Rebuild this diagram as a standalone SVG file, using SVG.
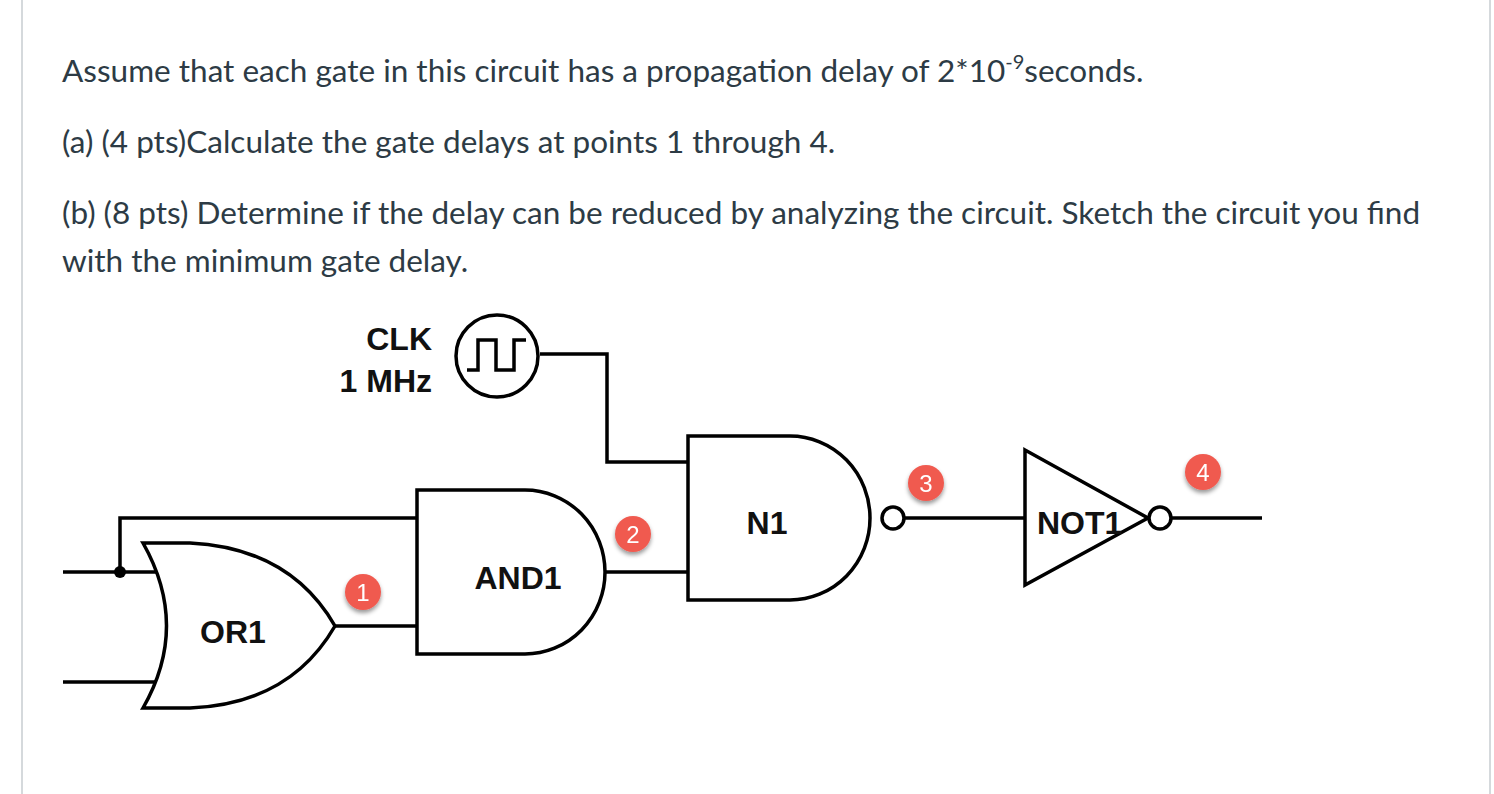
<svg xmlns="http://www.w3.org/2000/svg" width="1494" height="794" viewBox="0 0 1494 794">
<defs>
<style>
.t{font-family:Lato,"Open Sans",sans-serif;font-size:31.5px;fill:#2d3b45}
.w{fill:none;stroke:#000;stroke-width:3.5}
.g{fill:#fff;stroke:#000;stroke-width:3.5}
.l{font-family:"Liberation Sans",Arial,sans-serif;font-weight:bold;font-size:32px;fill:#111}
.bt{font-family:"Liberation Sans",Arial,sans-serif;font-size:24px;fill:#fff;text-anchor:middle}
.b{fill:#f05a50}
</style>
<filter id="sh" x="-50%" y="-50%" width="200%" height="200%"><feDropShadow dx="0" dy="3" stdDeviation="2" flood-opacity="0.4"/></filter>
</defs>
<rect width="1494" height="794" fill="#fff"/>
<line x1="22" y1="0" x2="22" y2="794" stroke="#c7cdd1" stroke-width="1.5"/>
<line x1="1490" y1="0" x2="1490" y2="794" stroke="#c7cdd1" stroke-width="1.5"/>
<text class="t" x="62" y="82">Assume that each gate in this circuit has a propagation delay of 2*10<tspan font-size="20" dy="-13">-9</tspan><tspan dy="13">seconds.</tspan></text>
<text class="t" x="62" y="153">(a) (4 pts)Calculate the gate delays at points 1 through 4.</text>
<text class="t" x="62" y="224">(b) (8 pts) Determine if the delay can be reduced by analyzing the circuit. Sketch the circuit you find</text>
<text class="t" x="62" y="272">with the minimum gate delay.</text>
<g id="connectors">
<path class="w" d="M540 354 H607 V462 H688"/>
<path class="w" d="M63 572 H165 M120 572 V518 H417 M63 682 H160 M335 626 H417 M605 572 H688 M903 518 H1025 M1170 518 H1262"/>
<circle cx="120" cy="572" r="6" fill="#000"/>
</g>
<g id="CLK">
<circle class="g" cx="497" cy="356" r="41"/>
<path class="w" d="M467 370 H478 V340 H496 V370 H514 V340 H526" stroke-width="3"/>
<text class="l" x="432" y="350" text-anchor="end">CLK</text>
<text class="l" x="432" y="392" text-anchor="end">1 MHz</text>
</g>
<g id="OR1">
<path class="g" d="M143 543 H190 Q290 548 335 626 Q290 704 190 708 H143 Q190 626 143 543 Z"/>
<text class="l" x="233" y="643" text-anchor="middle">OR1</text>
</g>
<g id="AND1">
<path class="g" d="M417 490 H525 A80 82 0 0 1 525 654 H417 Z"/>
<text class="l" x="518" y="589" text-anchor="middle">AND1</text>
</g>
<g id="N1">
<path class="g" d="M688 436 H790 A80 82 0 0 1 790 600 H688 Z"/>
<circle class="g" cx="893" cy="518" r="11"/>
<text class="l" x="767" y="534" text-anchor="middle">N1</text>
</g>
<g id="NOT1">
<path class="g" d="M1025 450 L1148 518 L1025 585 Z"/>
<circle class="g" cx="1160" cy="518" r="11"/>
<text class="l" x="1037" y="534">NOT1</text>
</g>
<g id="badges" filter="url(#sh)">
<circle class="b" cx="363" cy="592" r="18"/><text class="bt" x="363" y="601">1</text>
<circle class="b" cx="633" cy="534" r="18"/><text class="bt" x="633" y="543">2</text>
<circle class="b" cx="926" cy="483" r="18"/><text class="bt" x="926" y="492">3</text>
<circle class="b" cx="1203" cy="472" r="18"/><text class="bt" x="1203" y="481">4</text>
</g>
</svg>
